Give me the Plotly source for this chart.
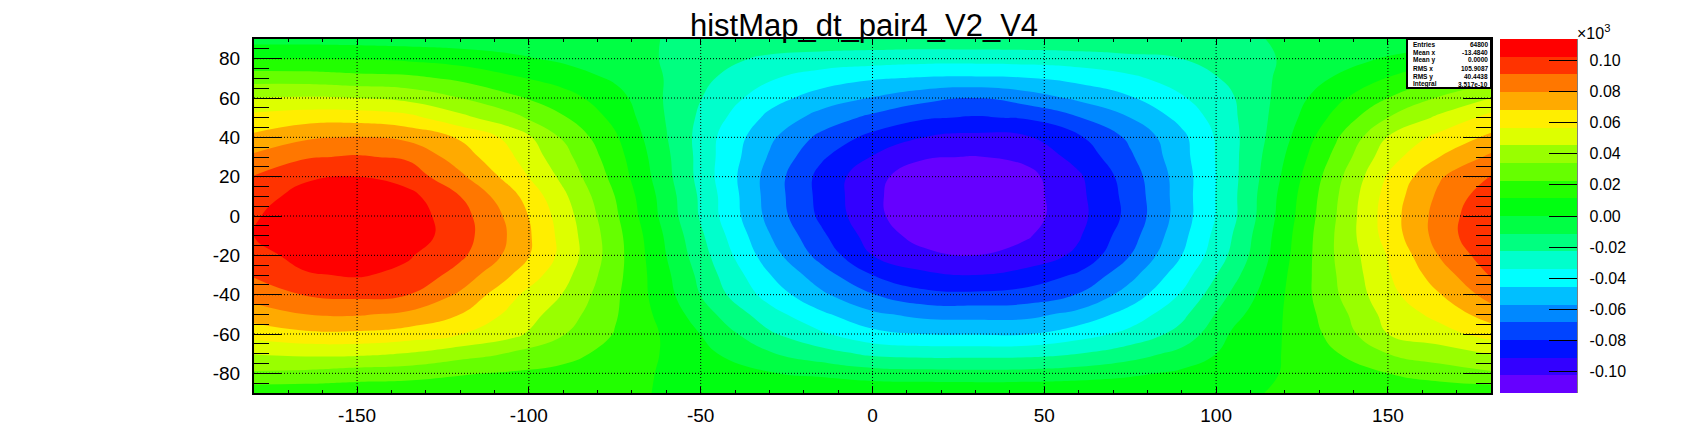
import plotly.graph_objects as go

TITLE = "histMap_dt_pair4_V2_V4"
FONT = "Liberation Sans"

# Longitude (x) and latitude (y) sample positions
lon = [-180, -165, -150, -135, -120, -105, -90, -75, -60, -45, -30, -15, 0,
       15, 30, 45, 60, 75, 90, 105, 120, 135, 150, 165, 180]
lat = [90, 80, 70, 60, 50, 40, 30, 20, 10, 0, -10, -20, -30, -40, -50, -60, -70, -80, -90]

# Field values, in colour-level units (10 = zero, 1 unit = one palette band)
lat_p90 = [9.6,9.6,9.55,9.5,9.45,9.4,9.3,9.15,8.98,8.85,8.75,8.7,8.65,8.65,8.7,8.7,8.75,8.8,8.85,8.95,9.03,9.2,9.35,9.5,9.6]
lat_p80 = [11,11,10.95,10.8,10.55,10.2,9.8,9.3,8.95,8.3,7.8,7.6,7.5,7.4,7.4,7.45,7.55,7.75,8,8.5,9.1,9.6,10.1,10.6,11]
lat_p70 = [12.6,12.55,12.35,12.25,11.8,11.15,10.6,9.85,8.95,7.95,7.1,6.5,6.1,5.9,5.85,5.95,6.3,6.8,7.45,8.2,9.25,10.1,11.05,11.85,12.6]
lat_p60 = [14,14.1,14,13.7,13,12.2,11.4,10.4,8.9,7.6,6.4,5.55,4.95,4.3,4,4.5,5.2,5.9,6.9,7.95,9.4,10.75,12,13.1,14]
lat_p50 = [15.35,15.6,15.6,15.3,14.3,13.3,12.1,10.75,8.95,7.25,5.75,4.6,3.75,3.1,2.9,3.1,3.95,5,6.3,7.85,9.55,11.3,13,14.2,15.35]
lat_p40 = [16.2,16.85,17.05,16.75,15.9,14.7,12.9,11.15,9.05,6.95,5.2,3.75,2.7,2,1.75,1.9,2.85,4.2,5.75,7.75,9.75,11.9,14.05,15.3,16.2]
lat_p30 = [17.2,17.9,18.1,17.85,16.5,15.1,13.35,11.45,9.2,6.9,4.9,3.15,1.95,1.1,0.95,1.25,2.35,3.85,5.65,7.75,10,12.3,14.6,16,17.2]
lat_p20 = [18.05,18.85,19,18.55,17.2,15.6,13.75,11.7,9.3,6.85,4.6,2.7,1.3,0.4,0.4,0.7,1.85,3.5,5.5,7.75,10.2,12.7,15.1,16.9,18.05]
lat_p10 = [18.6,19.35,19.7,19.3,18,16.3,14.2,12,9.5,7,4.6,2.7,1.2,0.3,0.05,0.6,1.75,3.35,5.5,7.8,10.4,12.9,15.4,17.2,18.6]
lat_000 = [18.9,19.6,19.97,19.5,18.4,16.7,14.5,12.2,9.6,7.05,4.7,2.8,1.25,0.3,0.03,0.6,1.7,3.3,5.5,7.8,10.5,13,15.5,17.4,18.9]
lat_m10 = [19,19.6,19.95,19.55,18.45,16.85,14.65,12.4,9.85,7.35,5.05,3.2,1.55,0.6,0.35,0.9,1.9,3.6,5.7,8.05,10.65,13.1,15.4,17.4,19]
lat_m20 = [18.6,19.4,19.6,19.1,18.2,16.7,14.7,12.45,10,7.65,5.45,3.65,2,1.25,1,1.4,2.2,4,6,8.25,10.75,13.1,15.05,17.05,18.6]
lat_m30 = [18.1,18.9,19.1,18.75,17.6,16,14.35,12.35,10.2,8,6.05,4.45,3,2.2,2,2.35,3.15,4.7,6.55,8.7,10.9,13,14.9,16.5,18.1]
lat_m40 = [17.4,18.05,18.25,18.0,16.85,15.2,13.95,12.2,10.35,8.3,6.6,5.2,4.05,3.3,3.2,3.4,4.05,5.45,7.1,9.2,11,12.9,14.7,15.95,17.4]
lat_m50 = [16.5,17,17.1,16.8,16,14.75,13.5,12.1,10.6,8.95,7.4,6.2,5.2,4.7,4.65,4.7,5.3,6.4,7.75,9.7,11.05,12.6,14.35,15.3,16.5]
lat_m60 = [15.4,15.8,15.8,15.55,15.05,14.3,13.05,11.95,10.85,9.55,8.15,7.15,6.3,6,5.95,5.95,6.55,7.3,8.35,10.15,11.05,12.35,14,14.6,15.4]
lat_m70 = [14.05,14.2,14.2,13.95,13.4,12.9,12.35,11.65,10.9,10,9.1,8.4,7.8,7.65,7.65,7.7,8,8.55,9.3,10.35,11.05,11.95,13,13.5,14.05]
lat_m80 = [12.85,12.75,12.5,12.4,12.1,11.9,11.7,11.35,10.9,10.55,10.05,9.8,9.45,9.35,9.3,9.35,9.5,9.8,10.2,10.6,11.05,11.55,12,12.5,12.85]
lat_m90 = [11.35,11.35,11.35,11.3,11.25,11.2,11.15,11.05,10.98,10.95,10.9,10.88,10.86,10.85,10.85,10.85,10.87,10.9,10.93,10.97,11.02,11.1,11.2,11.3,11.35]
level_rows = [lat_p90, lat_p80, lat_p70, lat_p60, lat_p50, lat_p40, lat_p30, lat_p20, lat_p10, lat_000,
              lat_m10, lat_m20, lat_m30, lat_m40, lat_m50, lat_m60, lat_m70, lat_m80, lat_m90]

palette = ["#6600FF", "#3300FF", "#0011FF", "#0044FF", "#0088FF", "#00BFFF", "#00FFFF", "#00FFCC", "#00FF80", "#00FF44",
           "#00FF11", "#22FF00", "#66FF00", "#99FF00", "#DDFF00", "#FFEE00", "#FFAA00", "#FF7700", "#FF3300", "#FF0000"]

Z_STEP = 11.37
Z_MAX = 10 * Z_STEP
z = [[(v - 10) * Z_STEP for v in row] for row in level_rows]

x_tickvals = [-150, -100, -50, 0, 50, 100, 150]
x_ticktext = ["-150", "-100", "-50", "0", "50", "100", "150"]
y_tickvals = [-80, -60, -40, -20, 0, 20, 40, 60, 80]
y_ticktext = ["-80", "-60", "-40", "-20", "0", "20", "40", "60", "80"]
cb_tickvals = [100, 80, 60, 40, 20, 0, -20, -40, -60, -80, -100]
cb_ticktext = ["\u00a0\u00a00.10", "\u00a0\u00a00.08", "\u00a0\u00a00.06", "\u00a0\u00a00.04", "\u00a0\u00a00.02", "\u00a0\u00a00.00",
               "\u00a0\u00a0-0.02", "\u00a0\u00a0-0.04", "\u00a0\u00a0-0.06", "\u00a0\u00a0-0.08", "\u00a0\u00a0-0.10"]

stat_names = ["Entries", "Mean x", "Mean y", "RMS x", "RMS y", "Integral"]
stat_values = ["64800", "-13.4840", "0.0000", "105.9087", "40.4438", "3.517e-10"]

# The page body has an 8 px margin, so everything is placed 8 px up and left of its target
PAGE = 8
W, H = 1696 - 2 * PAGE, 437 - PAGE
L, R, T, B = 254, 1491, 39, 393
PW, PH = R - L, B - T
def px(xp): return (xp - L) / PW
def py(yp): return (B - yp) / PH

colorscale = []
for i, c in enumerate(palette):
    colorscale += [[i / 20, c], [(i + 1) / 20, c]]

fig = go.Figure(go.Contour(
    x=lon, y=lat, z=z, zmin=-Z_MAX, zmax=Z_MAX, colorscale=colorscale, autocontour=False,
    contours=dict(start=-Z_MAX, end=Z_MAX, size=Z_STEP, coloring="fill", showlines=False),
    line=dict(width=0, smoothing=1.3), hoverinfo="skip",
    colorbar=dict(
        x=px(1500), xanchor="left", xpad=0, y=0.5, yanchor="middle", ypad=0,
        len=1, lenmode="fraction", thickness=77, thicknessmode="pixels", outlinewidth=0,
        ticks="inside", ticklen=28, tickwidth=1, tickcolor="black",
        tickmode="array", tickvals=cb_tickvals, ticktext=cb_ticktext,
        tickfont=dict(family=FONT, size=16, color="black"),
    ),
))

axis_common = dict(showline=True, linecolor="black", linewidth=2, mirror="ticks", ticks="inside",
                   tickcolor="black", tickwidth=1, showgrid=False, zeroline=False, automargin=False,
                   tickfont=dict(family=FONT, size=19, color="black"))

shapes = []
for v in x_tickvals:
    shapes.append(dict(type="line", xref="x", yref="paper", x0=v, x1=v, y0=0, y1=1, layer="above",
                       line=dict(color="black", width=1, dash="1px,2px")))
for v in y_tickvals:
    shapes.append(dict(type="line", xref="paper", yref="y", x0=0, x1=1, y0=v, y1=v, layer="above",
                       line=dict(color="black", width=1, dash="1px,2px")))
# Statistics box and colour-bar edge
shapes.append(dict(type="rect", xref="paper", yref="paper", x0=px(1407), x1=1, y0=py(88), y1=1, layer="above",
                   fillcolor="white", line=dict(color="black", width=2)))
shapes.append(dict(type="line", xref="paper", yref="paper", x0=px(1577), x1=px(1577), y0=0, y1=1, layer="above",
                   line=dict(color="black", width=1)))

annotations = []
stat_rows_y = [44, 52, 60, 68.3, 76.7, 84.5]
for name, val, yp in zip(stat_names, stat_values, stat_rows_y):
    annotations.append(dict(text="<b>" + name + "</b>", xref="paper", yref="paper", x=px(1411), y=py(yp), xanchor="left",
                            yanchor="middle", showarrow=False, font=dict(family=FONT, size=6.5, color="black")))
    annotations.append(dict(text="<b>" + val + "</b>", xref="paper", yref="paper", x=px(1490), y=py(yp), xanchor="right",
                            yanchor="middle", showarrow=False, font=dict(family=FONT, size=6.5, color="black")))
annotations.append(dict(text="\u00d710<sup>3</sup>", xref="paper", yref="paper", x=px(1577), y=py(32), xanchor="left",
                        yanchor="middle", showarrow=False, xshift=-2, font=dict(family=FONT, size=16, color="black")))

fig.update_layout(
    width=W, height=H, autosize=False,
    margin=dict(l=L - PAGE, r=W - (R - PAGE), t=T - PAGE, b=H - (B - PAGE), pad=0),
    paper_bgcolor="white", plot_bgcolor="white",
    title=dict(text=TITLE, x=(864 - PAGE) / W, xanchor="center", y=1 - (25 - PAGE) / H, yanchor="middle",
               font=dict(family=FONT, size=31, color="black")),
    xaxis=dict(range=[-180, 180], tickmode="array", tickvals=x_tickvals, ticktext=x_ticktext, ticklen=6,
               minor=dict(dtick=10, tick0=-180, ticks="inside", ticklen=3, tickcolor="black", tickwidth=1),
               ticklabelstandoff=4, **axis_common),
    yaxis=dict(range=[-90, 90], tickmode="array", tickvals=y_tickvals, ticktext=y_ticktext, ticklen=28,
               minor=dict(dtick=5, tick0=-90, ticks="inside", ticklen=15, tickcolor="black", tickwidth=1),
               ticklabelstandoff=8, **axis_common),
    shapes=shapes, annotations=annotations, showlegend=False,
)

fig.write_html("out.html")
